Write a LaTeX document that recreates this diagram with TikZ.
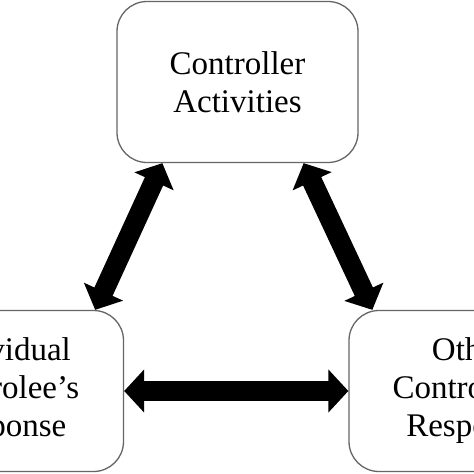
\documentclass[tikz,border=0pt]{standalone}
\usepackage{fontspec}
\setmainfont{Liberation Serif}
\usetikzlibrary{arrows.meta}
\begin{document}
\begin{tikzpicture}[x=1pt,y=-1pt,
  box/.style={draw=black!60, line width=1.3pt, rounded corners=30pt, fill=white,
    minimum width=241pt, minimum height=161pt, align=center, inner sep=0pt,
    font=\fontsize{33pt}{38pt}\selectfont},
  dbl/.style={line width=20pt, {Triangle[width=42pt,length=20pt]}-{Triangle[width=42pt,length=20pt]}}]
\useasboundingbox (0,0) rectangle (474,474);
\clip (0,0) rectangle (474,474);
\fill[white] (0,0) rectangle (474,474);
\node[box] (T) at (237.5,82) {Controller\\Activities};
\node[box] (L) at (3,391) {Individual\\Controlee's\\Response};
\node[box] (R) at (469.5,391) {Other\\Controlees'\\Response};
\draw[dbl] (L.east) -- (R.west);
\draw[dbl] ([xshift=46pt]T.south west) -- ([xshift=-29pt]L.north east);
\draw[dbl] ([xshift=-55pt]T.south east) -- ([xshift=24pt]R.north west);
\end{tikzpicture}
\end{document}
